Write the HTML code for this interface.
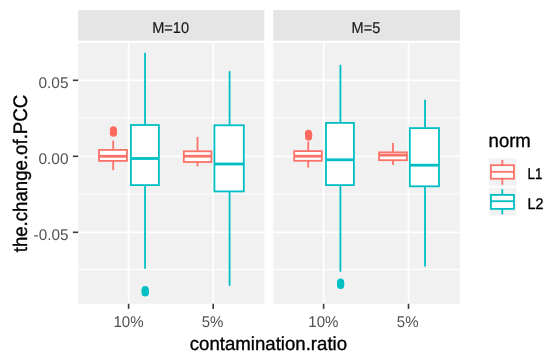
<!DOCTYPE html>
<html><head><meta charset="utf-8"><title>plot</title>
<style>html,body{margin:0;padding:0;background:#fff}svg{display:block}text{font-family:"Liberation Sans",Arial,sans-serif;text-rendering:geometricPrecision}</style></head><body>
<svg width="550" height="355" viewBox="0 0 550 355">
<rect width="550" height="355" fill="#fff"/>
<rect x="78.2" y="10" width="186.1" height="30.7" fill="#E5E5E5"/>
<rect x="78.2" y="42.9" width="186.1" height="260.9" fill="#F1F1F1"/>
<line x1="78.2" x2="264.3" y1="117.9" y2="117.9" stroke="#fff" stroke-width="0.95"/>
<line x1="78.2" x2="264.3" y1="194.0" y2="194.0" stroke="#fff" stroke-width="0.95"/>
<line x1="78.2" x2="264.3" y1="269.5" y2="269.5" stroke="#fff" stroke-width="0.95"/>
<line x1="78.2" x2="264.3" y1="80.3" y2="80.3" stroke="#fff" stroke-width="1.75"/>
<line x1="78.2" x2="264.3" y1="156.3" y2="156.3" stroke="#fff" stroke-width="1.75"/>
<line x1="78.2" x2="264.3" y1="232.3" y2="232.3" stroke="#fff" stroke-width="1.75"/>
<line x1="128.6" x2="128.6" y1="42.9" y2="303.8" stroke="#fff" stroke-width="1.75"/>
<line x1="128.6" x2="128.6" y1="303.8" y2="308.90000000000003" stroke="#3a3a3a" stroke-width="1.6"/>
<line x1="213.2" x2="213.2" y1="42.9" y2="303.8" stroke="#fff" stroke-width="1.75"/>
<line x1="213.2" x2="213.2" y1="303.8" y2="308.90000000000003" stroke="#3a3a3a" stroke-width="1.6"/>
<text x="152.2" y="33.2" font-size="15.5" fill="#1A1A1A" stroke="#1A1A1A" stroke-width="0.2" textLength="36.9" lengthAdjust="spacingAndGlyphs">M=10</text>
<rect x="273.3" y="10" width="186.7" height="30.7" fill="#E5E5E5"/>
<rect x="273.3" y="42.9" width="186.7" height="260.9" fill="#F1F1F1"/>
<line x1="273.3" x2="460.0" y1="117.9" y2="117.9" stroke="#fff" stroke-width="0.95"/>
<line x1="273.3" x2="460.0" y1="194.0" y2="194.0" stroke="#fff" stroke-width="0.95"/>
<line x1="273.3" x2="460.0" y1="269.5" y2="269.5" stroke="#fff" stroke-width="0.95"/>
<line x1="273.3" x2="460.0" y1="80.3" y2="80.3" stroke="#fff" stroke-width="1.75"/>
<line x1="273.3" x2="460.0" y1="156.3" y2="156.3" stroke="#fff" stroke-width="1.75"/>
<line x1="273.3" x2="460.0" y1="232.3" y2="232.3" stroke="#fff" stroke-width="1.75"/>
<line x1="323.6" x2="323.6" y1="42.9" y2="303.8" stroke="#fff" stroke-width="1.75"/>
<line x1="323.6" x2="323.6" y1="303.8" y2="308.90000000000003" stroke="#3a3a3a" stroke-width="1.6"/>
<line x1="408.5" x2="408.5" y1="42.9" y2="303.8" stroke="#fff" stroke-width="1.75"/>
<line x1="408.5" x2="408.5" y1="303.8" y2="308.90000000000003" stroke="#3a3a3a" stroke-width="1.6"/>
<text x="351.6" y="33.2" font-size="15.5" fill="#1A1A1A" stroke="#1A1A1A" stroke-width="0.2" textLength="28.6" lengthAdjust="spacingAndGlyphs">M=5</text>
<line x1="72.9" x2="78.2" y1="80.3" y2="80.3" stroke="#3a3a3a" stroke-width="1.6"/>
<line x1="72.9" x2="78.2" y1="156.3" y2="156.3" stroke="#3a3a3a" stroke-width="1.6"/>
<line x1="72.9" x2="78.2" y1="232.3" y2="232.3" stroke="#3a3a3a" stroke-width="1.6"/>
<circle cx="113.4" cy="129.7" r="3.55" fill="#FC6A5F"/>
<circle cx="113.5" cy="131.0" r="3.55" fill="#FC6A5F"/>
<circle cx="113.5" cy="132.2" r="3.55" fill="#FC6A5F"/>
<circle cx="113.4" cy="133.3" r="3.55" fill="#FC6A5F"/>
<line x1="113.2" x2="113.2" y1="140.6" y2="149.9" stroke="#FA7268" stroke-width="1.8"/>
<line x1="113.2" x2="113.2" y1="160.9" y2="170.2" stroke="#FA7268" stroke-width="1.8"/>
<rect x="99.00" y="149.9" width="27.90" height="11.00" fill="#fff" stroke="#FA7268" stroke-width="1.8" stroke-linejoin="miter"/>
<line x1="99.00" x2="126.90" y1="156.3" y2="156.3" stroke="#FA7268" stroke-width="2.8"/>
<circle cx="145.2" cy="289.6" r="3.55" fill="#00BFC4"/>
<circle cx="145.2" cy="290.8" r="3.55" fill="#00BFC4"/>
<circle cx="145.2" cy="291.9" r="3.55" fill="#00BFC4"/>
<circle cx="145.2" cy="293.0" r="3.55" fill="#00BFC4"/>
<line x1="145.05" x2="145.05" y1="52.7" y2="125.0" stroke="#00BFC4" stroke-width="1.8"/>
<line x1="145.05" x2="145.05" y1="185.1" y2="268.7" stroke="#00BFC4" stroke-width="1.8"/>
<rect x="130.90" y="125.0" width="28.00" height="60.10" fill="#fff" stroke="#00BFC4" stroke-width="1.8" stroke-linejoin="miter"/>
<line x1="130.90" x2="158.90" y1="158.5" y2="158.5" stroke="#00BFC4" stroke-width="2.8"/>
<line x1="197.5" x2="197.5" y1="136.9" y2="151.3" stroke="#FA7268" stroke-width="1.8"/>
<line x1="197.5" x2="197.5" y1="162.0" y2="166.3" stroke="#FA7268" stroke-width="1.8"/>
<rect x="183.80" y="151.3" width="27.60" height="10.70" fill="#fff" stroke="#FA7268" stroke-width="1.8" stroke-linejoin="miter"/>
<line x1="183.80" x2="211.40" y1="156.2" y2="156.2" stroke="#FA7268" stroke-width="2.8"/>
<line x1="229.6" x2="229.6" y1="71.1" y2="125.3" stroke="#00BFC4" stroke-width="1.8"/>
<line x1="229.6" x2="229.6" y1="191.4" y2="285.8" stroke="#00BFC4" stroke-width="1.8"/>
<rect x="214.40" y="125.3" width="29.40" height="66.10" fill="#fff" stroke="#00BFC4" stroke-width="1.8" stroke-linejoin="miter"/>
<line x1="214.40" x2="243.80" y1="164.0" y2="164.0" stroke="#00BFC4" stroke-width="2.8"/>
<circle cx="308.5" cy="133.4" r="3.55" fill="#FC6A5F"/>
<circle cx="308.8" cy="135.3" r="3.55" fill="#FC6A5F"/>
<circle cx="308.6" cy="137.1" r="3.55" fill="#FC6A5F"/>
<line x1="308.2" x2="308.2" y1="141.5" y2="151.1" stroke="#FA7268" stroke-width="1.8"/>
<line x1="308.2" x2="308.2" y1="160.8" y2="167.6" stroke="#FA7268" stroke-width="1.8"/>
<rect x="294.20" y="151.1" width="27.60" height="9.70" fill="#fff" stroke="#FA7268" stroke-width="1.8" stroke-linejoin="miter"/>
<line x1="294.20" x2="321.80" y1="156.2" y2="156.2" stroke="#FA7268" stroke-width="2.8"/>
<circle cx="340.6" cy="282.0" r="3.55" fill="#00BFC4"/>
<circle cx="340.7" cy="283.2" r="3.55" fill="#00BFC4"/>
<circle cx="340.7" cy="284.4" r="3.55" fill="#00BFC4"/>
<circle cx="340.6" cy="285.5" r="3.55" fill="#00BFC4"/>
<line x1="340.4" x2="340.4" y1="64.8" y2="122.9" stroke="#00BFC4" stroke-width="1.8"/>
<line x1="340.4" x2="340.4" y1="185.1" y2="271.7" stroke="#00BFC4" stroke-width="1.8"/>
<rect x="326.00" y="122.9" width="27.90" height="62.20" fill="#fff" stroke="#00BFC4" stroke-width="1.8" stroke-linejoin="miter"/>
<line x1="326.00" x2="353.90" y1="159.8" y2="159.8" stroke="#00BFC4" stroke-width="2.8"/>
<line x1="393.0" x2="393.0" y1="143.0" y2="152.35" stroke="#FA7268" stroke-width="1.8"/>
<line x1="393.0" x2="393.0" y1="160.2" y2="165.0" stroke="#FA7268" stroke-width="1.8"/>
<rect x="379.10" y="152.35" width="27.80" height="7.85" fill="#fff" stroke="#FA7268" stroke-width="1.8" stroke-linejoin="miter"/>
<line x1="379.10" x2="406.90" y1="155.15" y2="155.15" stroke="#FA7268" stroke-width="2.8"/>
<line x1="425.0" x2="425.0" y1="99.7" y2="128.1" stroke="#00BFC4" stroke-width="1.8"/>
<line x1="425.0" x2="425.0" y1="186.3" y2="266.5" stroke="#00BFC4" stroke-width="1.8"/>
<rect x="409.80" y="128.1" width="29.20" height="58.20" fill="#fff" stroke="#00BFC4" stroke-width="1.8" stroke-linejoin="miter"/>
<line x1="409.80" x2="439.00" y1="165.2" y2="165.2" stroke="#00BFC4" stroke-width="2.8"/>
<text x="38.5" y="87.8" font-size="15.5" fill="#525252" textLength="30.0" lengthAdjust="spacingAndGlyphs">0.05</text>
<text x="38.5" y="163.8" font-size="15.5" fill="#525252" textLength="30.0" lengthAdjust="spacingAndGlyphs">0.00</text>
<text x="33.6" y="239.8" font-size="15.5" fill="#525252" textLength="34.9" lengthAdjust="spacingAndGlyphs">-0.05</text>
<text x="113.4" y="327.3" font-size="15.5" fill="#525252" textLength="30.2" lengthAdjust="spacingAndGlyphs">10%</text>
<text x="201.7" y="327.3" font-size="15.5" fill="#525252" textLength="21.7" lengthAdjust="spacingAndGlyphs">5%</text>
<text x="308.3" y="327.3" font-size="15.5" fill="#525252" textLength="30.2" lengthAdjust="spacingAndGlyphs">10%</text>
<text x="396.8" y="327.3" font-size="15.5" fill="#525252" textLength="21.7" lengthAdjust="spacingAndGlyphs">5%</text>
<text x="189.8" y="349.7" font-size="18.9" fill="#000" stroke="#000" stroke-width="0.35" textLength="157.3" lengthAdjust="spacingAndGlyphs">contamination.ratio</text>
<text transform="translate(27.2,252.3) rotate(-90)" font-size="19.6" fill="#000" stroke="#000" stroke-width="0.35" textLength="157.5" lengthAdjust="spacingAndGlyphs">the.change.of.PCC</text>
<text x="488.6" y="147.4" font-size="19.3" fill="#000" stroke="#000" stroke-width="0.35" textLength="42.2" lengthAdjust="spacingAndGlyphs">norm</text>
<rect x="488.9" y="158.5" width="27.6" height="27.3" fill="#F2F2F2"/>
<line x1="502.3" x2="502.3" y1="160.0" y2="165.2" stroke="#FA7268" stroke-width="1.8"/>
<line x1="502.3" x2="502.3" y1="178.7" y2="184.7" stroke="#FA7268" stroke-width="1.8"/>
<rect x="490.95" y="165.2" width="23.0" height="13.5" fill="#fff" stroke="#FA7268" stroke-width="1.8"/>
<line x1="490.95" x2="513.95" y1="171.8" y2="171.8" stroke="#FA7268" stroke-width="1.8"/>
<text x="527.5" y="179.4" font-size="15.5" fill="#000" stroke="#000" stroke-width="0.35" textLength="14.9" lengthAdjust="spacingAndGlyphs">L1</text>
<rect x="488.9" y="187.6" width="27.6" height="28.0" fill="#F2F2F2"/>
<line x1="502.3" x2="502.3" y1="189.1" y2="194.9" stroke="#00BFC4" stroke-width="1.8"/>
<line x1="502.3" x2="502.3" y1="208.9" y2="214.4" stroke="#00BFC4" stroke-width="1.8"/>
<rect x="490.95" y="194.9" width="23.0" height="14.0" fill="#fff" stroke="#00BFC4" stroke-width="1.8"/>
<line x1="490.95" x2="513.95" y1="201.2" y2="201.2" stroke="#00BFC4" stroke-width="1.8"/>
<text x="527.5" y="209.2" font-size="15.5" fill="#000" stroke="#000" stroke-width="0.35" textLength="16.0" lengthAdjust="spacingAndGlyphs">L2</text>
</svg></body></html>
